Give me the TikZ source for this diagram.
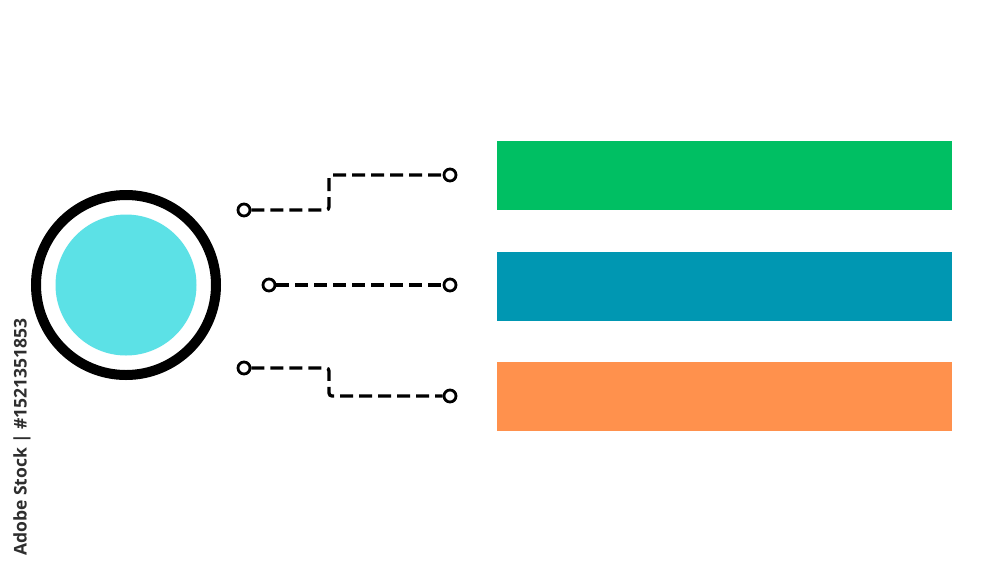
\documentclass[tikz,border=0pt]{standalone}
\usepackage{fontspec}
\setmainfont{Open Sans}
\definecolor{cyanfill}{HTML}{5CE1E6}
\definecolor{bargreen}{HTML}{00BF63}
\definecolor{barblue}{HTML}{0097B2}
\definecolor{barorange}{HTML}{FF914D}
\definecolor{idgray}{HTML}{2E2E2E}
\begin{document}
\begin{tikzpicture}[x=1pt,y=-1pt,
  conn/.style={line width=3.3pt, dash pattern=on 13pt off 6pt, rounded corners=3pt},
  pin/.style={circle, draw=black, line width=2.8pt, fill=white, minimum size=12pt, inner sep=0pt},
  bar/.style={rectangle, minimum width=455pt, minimum height=69pt, inner sep=0pt, anchor=north west}]
\useasboundingbox (0,0) rectangle (1000,560);
\fill[white] (0,0) rectangle (1000,560);
% hub circle
\node[circle, draw=black, line width=10pt, minimum size=180pt, inner sep=0pt] (hub) at (126,285) {};
\node[circle, fill=cyanfill, minimum size=141pt, inner sep=0pt] (core) at (126,285) {};
% bars
\node[bar, fill=bargreen] (b1) at (497,141) {};
\node[bar, fill=barblue] (b2) at (497,252) {};
\node[bar, fill=barorange] (b3) at (497,362) {};
% pins
\node[pin] (s1) at (244,210) {};
\node[pin] (e1) at (450,175) {};
\node[pin] (s2) at (269,285) {};
\node[pin] (e2) at (450,285) {};
\node[pin] (s3) at (244,368) {};
\node[pin] (e3) at (450,396) {};
% connectors
\draw[conn] (s1.east) -- (329,210) -- (329,175) -- (e1.west);
\draw[conn] (s2.east) -- (e2.west);
\draw[conn] (s3.east) -- (329,368) -- (329,396) -- (e3.west);
% id text
\node[rotate=90, text=idgray, font=\fontsize{17.5}{20}\selectfont\bfseries, inner sep=0pt] (idtext) at (22,437) {Adobe Stock | \#1521351853};
\end{tikzpicture}
\end{document}
